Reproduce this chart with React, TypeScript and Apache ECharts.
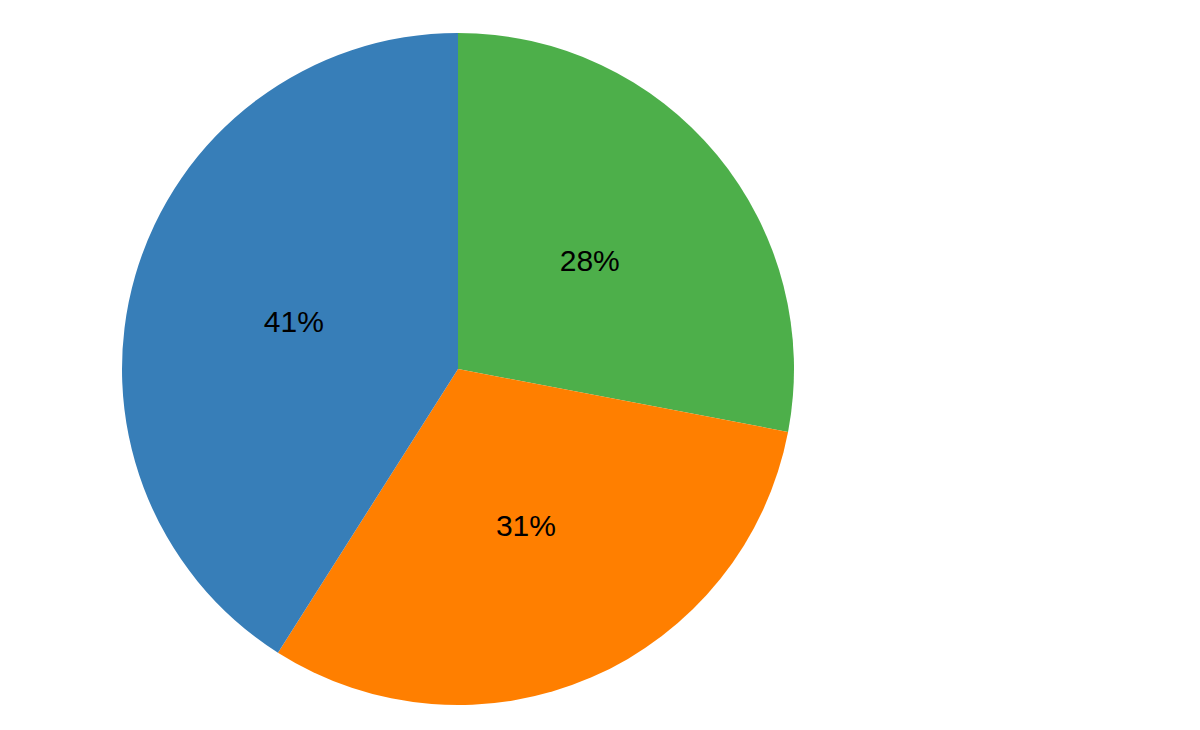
import React, { useEffect, useRef } from "react";
import * as echarts from "echarts";

const categories = ["C", "B", "A"];
const values = [28, 31, 41];
const colors = ["#4daf4a", "#ff7f00", "#377eb8"];

export default function App() {
  const ref = useRef<HTMLDivElement>(null);
  useEffect(() => {
    document.body.style.margin = "0";
    const chart = echarts.init(ref.current!, null, { renderer: "svg" });
    chart.setOption({
      animation: false,
      backgroundColor: "#ffffff",
      series: [
        {
          type: "pie",
          center: [458, 369],
          radius: 336,
          startAngle: 90,
          clockwise: true,
          silent: true,
          data: categories.map((c, i) => ({
            name: c,
            value: values[i],
            itemStyle: { color: colors[i] },
          })),
          itemStyle: { borderWidth: 0 },
          label: {
            show: true,
            position: "inside",
            formatter: (p: any) => `${Math.round(p.percent)}%`,
            color: "#000000",
            fontSize: 30,
            fontFamily: "Liberation Sans, Arial, sans-serif",
          },
          labelLine: { show: false },
        },
      ],
    });
    return () => chart.dispose();
  }, []);
  return <div ref={ref} style={{ width: 1200, height: 730 }} />;
}
